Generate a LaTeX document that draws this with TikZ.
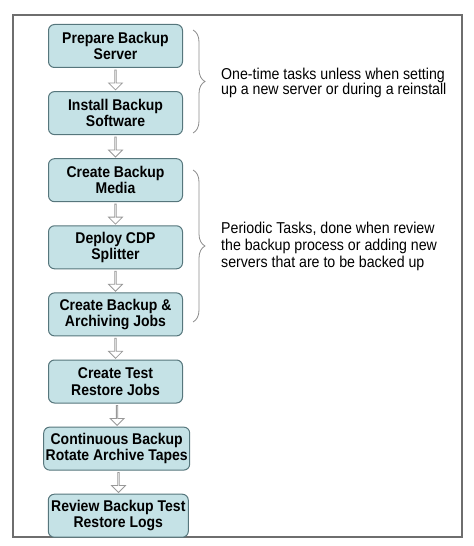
\documentclass[tikz,border=0pt]{standalone}
\usepackage{fontspec}
\setmainfont[FakeStretch=0.9]{Liberation Sans}
\usetikzlibrary{positioning,shapes.arrows,decorations.pathreplacing}
\definecolor{boxfill}{HTML}{C5E2E6}
\definecolor{boxline}{HTML}{56767C}
\definecolor{framegray}{HTML}{6E6E6E}

\begin{document}
\begin{tikzpicture}[x=1bp, y=-1bp, node distance=23.1bp,
		taskbox/.style={draw=boxline, line width=1bp, fill=boxfill, rounded corners=6bp,
			minimum width=134bp, minimum height=43bp, inner sep=0pt, align=center,
			font=\fontsize{15.6}{16.5}\selectfont\bfseries},
		flowarrow/.style={single arrow, draw=gray!80, fill=white, line width=.8bp, rotate=-90,
			minimum height=20bp, minimum width=14bp, inner sep=0pt,
			single arrow head extend=3.5bp},
		bracket/.style={draw=gray!90, line width=.8bp, decorate, decoration={brace, amplitude=12bp}},
		note/.style={anchor=west, align=left, inner sep=0pt}]
	\useasboundingbox (0,0) rectangle (474,546);
	\draw[framegray, line width=1.5bp] (13,15) rectangle (462,537);
	% the tasks
	\node[taskbox, anchor=north] (prep) at (115.5,24) {Prepare Backup\\Server};
	\node[taskbox, below=of prep] (install) {Install Backup\\Software};
	\node[taskbox, below=of install] (media) {Create Backup\\Media};
	\node[taskbox, below=of media] (deploy) {Deploy CDP\\Splitter};
	\node[taskbox, below=of deploy] (jobs) {Create Backup \&\\Archiving Jobs};
	\node[taskbox, below=of jobs] (restore) {Create Test\\Restore Jobs};
	\node[taskbox, below=of restore, minimum width=146bp, xshift=1.2bp] (rotate) {Continuous Backup\\Rotate Archive Tapes};
	\node[taskbox, below=of rotate, minimum width=140bp, xshift=1.6bp] (review) {Review Backup Test\\Restore Logs};
	% arrows in between
	\path (prep) -- (install) node[midway, flowarrow] {};
	\path (install) -- (media) node[midway, flowarrow] {};
	\path (media) -- (deploy) node[midway, flowarrow] {};
	\path (deploy) -- (jobs) node[midway, flowarrow] {};
	\path (jobs) -- (restore) node[midway, flowarrow] {};
	\path ([xshift=1bp]restore.south) -- ([xshift=1bp]rotate.north) node[midway, flowarrow] {};
	\path ([xshift=1bp]rotate.south) -- ([xshift=1bp]review.north) node[midway, flowarrow] {};
	% braces and notes
	\coordinate (onetop) at (193,30);
	\coordinate (onebot) at (193,133);
	\coordinate (pertop) at (193,170);
	\coordinate (perbot) at (193,322);
	\draw[bracket] (onetop) -- (onebot);
	\draw[bracket] (pertop) -- (perbot);
	\node[note, font=\fontsize{15.8}{15}\selectfont] (onetime) at (221,82.5)
		{One-time tasks unless when setting\\up a new server or during a reinstall};
	\node[note, font=\fontsize{15.8}{17}\selectfont] (periodic) at (221,246)
		{Periodic Tasks, done when review\\the backup process or adding new\\servers that are to be backed up};
\end{tikzpicture}
\end{document}
